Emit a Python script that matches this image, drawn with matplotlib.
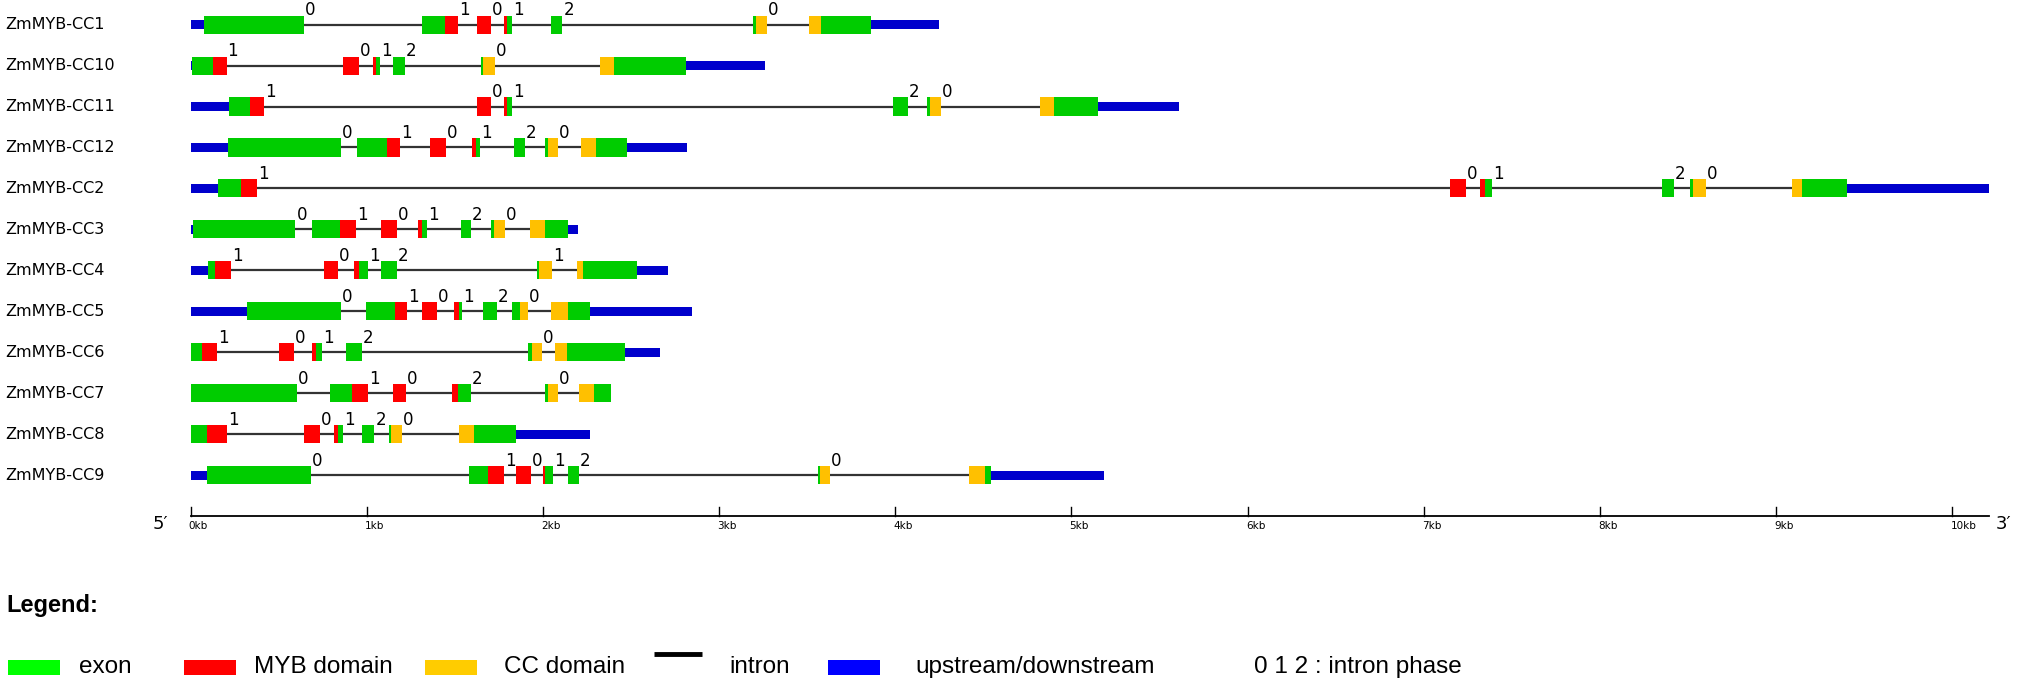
import matplotlib
matplotlib.use("Agg")
import matplotlib.pyplot as plt
from matplotlib.patches import Rectangle

genes = ["ZmMYB-CC1","ZmMYB-CC10","ZmMYB-CC11","ZmMYB-CC12","ZmMYB-CC2","ZmMYB-CC3",
         "ZmMYB-CC4","ZmMYB-CC5","ZmMYB-CC6","ZmMYB-CC7","ZmMYB-CC8","ZmMYB-CC9"]
gene_len = [4.25,3.261,5.61,2.818,10.21,2.202,2.713,2.844,2.664,2.388,2.265,5.184]

# segments: (start_kb, end_kb, type)  u=UTR, e=exon, m=MYB, c=CC
seg_CC1 = [(0,0.075,'u'),(0.075,0.645,'e'),(1.313,1.443,'e'),(1.443,1.518,'m'),(1.629,1.704,'m'),
           (1.779,1.798,'m'),(1.798,1.827,'e'),(2.046,2.111,'e'),(3.195,3.212,'e'),(3.212,3.274,'c'),
           (3.511,3.577,'c'),(3.577,3.860,'e'),(3.860,4.25,'u')]
seg_CC10 = [(0,0.01,'u'),(0.01,0.13,'e'),(0.13,0.205,'m'),(0.863,0.954,'m'),(1.036,1.052,'m'),
            (1.052,1.078,'e'),(1.150,1.215,'e'),(1.648,1.661,'e'),(1.661,1.726,'c'),(2.326,2.404,'c'),
            (2.404,2.811,'e'),(2.811,3.261,'u')]
seg_CC11 = [(0,0.221,'u'),(0.221,0.336,'e'),(0.336,0.417,'m'),(1.629,1.704,'m'),(1.779,1.798,'m'),
            (1.798,1.827,'e'),(3.99,4.07,'e'),(4.18,4.20,'e'),(4.20,4.26,'c'),(4.82,4.90,'c'),
            (4.90,5.15,'e'),(5.15,5.61,'u')]
seg_CC12 = [(0,0.215,'u'),(0.215,0.857,'e'),(0.945,1.117,'e'),(1.117,1.192,'m'),(1.362,1.450,'m'),
            (1.599,1.622,'m'),(1.622,1.642,'e'),(1.834,1.899,'e'),(2.013,2.029,'e'),(2.029,2.088,'c'),
            (2.218,2.300,'c'),(2.300,2.476,'e'),(2.476,2.818,'u')]
seg_CC2 = [(0,0.156,'u'),(0.156,0.287,'e'),(0.287,0.378,'m'),(7.15,7.24,'m'),(7.32,7.35,'m'),
           (7.35,7.39,'e'),(8.35,8.42,'e'),(8.51,8.53,'e'),(8.53,8.60,'c'),(9.09,9.15,'c'),
           (9.15,9.40,'e'),(9.40,10.21,'u')]
seg_CC3 = [(0,0.016,'u'),(0.016,0.596,'e'),(0.687,0.847,'e'),(0.847,0.938,'m'),(1.081,1.173,'m'),
           (1.290,1.313,'m'),(1.313,1.345,'e'),(1.534,1.590,'e'),(1.707,1.720,'e'),(1.720,1.785,'c'),
           (1.928,2.013,'c'),(2.013,2.143,'e'),(2.143,2.202,'u')]
seg_CC4 = [(0,0.098,'u'),(0.098,0.140,'e'),(0.140,0.231,'m'),(0.759,0.840,'m'),(0.928,0.954,'m'),
           (0.954,1.010,'e'),(1.081,1.173,'e'),(1.967,1.980,'e'),(1.980,2.052,'c'),(2.195,2.228,'c'),
           (2.228,2.534,'e'),(2.534,2.713,'u')]
seg_CC5 = [(0,0.319,'u'),(0.319,0.857,'e'),(0.997,1.160,'e'),(1.160,1.231,'m'),(1.313,1.401,'m'),
           (1.498,1.524,'m'),(1.524,1.541,'e'),(1.661,1.739,'e'),(1.827,1.870,'e'),(1.870,1.915,'c'),
           (2.046,2.143,'c'),(2.143,2.267,'e'),(2.267,2.844,'u')]
seg_CC6 = [(0,0.068,'e'),(0.068,0.150,'m'),(0.505,0.590,'m'),(0.687,0.710,'m'),(0.710,0.749,'e'),
           (0.883,0.971,'e'),(1.915,1.938,'e'),(1.938,1.997,'c'),(2.068,2.137,'c'),(2.137,2.469,'e'),
           (2.469,2.664,'u')]
seg_CC7 = [(0,0.01,'u'),(0.003,0.603,'e'),(0.792,0.915,'e'),(0.915,1.010,'m'),(1.150,1.221,'m'),
           (1.485,1.518,'m'),(1.518,1.590,'e'),(2.013,2.029,'e'),(2.029,2.088,'c'),(2.208,2.290,'c'),
           (2.290,2.388,'e')]
seg_CC8 = [(0,0.096,'e'),(0.096,0.206,'m'),(0.647,0.735,'m'),(0.816,0.838,'m'),(0.838,0.868,'e'),
           (0.971,1.044,'e'),(1.125,1.140,'e'),(1.140,1.199,'c'),(1.522,1.610,'c'),(1.610,1.846,'e'),
           (1.846,2.265,'u')]
seg_CC9 = [(0,0.096,'u'),(0.096,0.684,'e'),(1.581,1.691,'e'),(1.691,1.779,'m'),(1.846,1.934,'m'),
           (2.0,2.015,'m'),(2.015,2.059,'e'),(2.140,2.206,'e'),(3.559,3.574,'e'),(3.574,3.632,'c'),
           (4.419,4.507,'c'),(4.507,4.544,'e'),(4.544,5.184,'u')]

# intron phases: (position_kb, phase)
ph_CC1 = [(0.645,'0'),(1.518,'1'),(1.704,'0'),(1.827,'1'),(2.111,'2'),(3.274,'0')]
ph_CC10 = [(0.205,'1'),(0.954,'0'),(1.078,'1'),(1.215,'2'),(1.726,'0')]
ph_CC11 = [(0.417,'1'),(1.704,'0'),(1.827,'1'),(4.07,'2'),(4.26,'0')]
ph_CC12 = [(0.857,'0'),(1.192,'1'),(1.450,'0'),(1.642,'1'),(1.899,'2'),(2.088,'0')]
ph_CC2 = [(0.378,'1'),(7.24,'0'),(7.39,'1'),(8.42,'2'),(8.60,'0')]
ph_CC3 = [(0.596,'0'),(0.938,'1'),(1.173,'0'),(1.345,'1'),(1.590,'2'),(1.785,'0')]
ph_CC4 = [(0.231,'1'),(0.840,'0'),(1.010,'1'),(1.173,'2'),(2.052,'1')]
ph_CC5 = [(0.857,'0'),(1.231,'1'),(1.401,'0'),(1.541,'1'),(1.739,'2'),(1.915,'0')]
ph_CC6 = [(0.150,'1'),(0.590,'0'),(0.749,'1'),(0.971,'2'),(1.997,'0')]
ph_CC7 = [(0.603,'0'),(1.010,'1'),(1.221,'0'),(1.590,'2'),(2.088,'0')]
ph_CC8 = [(0.206,'1'),(0.735,'0'),(0.868,'1'),(1.044,'2'),(1.199,'0')]
ph_CC9 = [(0.684,'0'),(1.779,'1'),(1.934,'0'),(2.059,'1'),(2.206,'2'),(3.632,'0')]

segments = [seg_CC1,seg_CC10,seg_CC11,seg_CC12,seg_CC2,seg_CC3,seg_CC4,seg_CC5,seg_CC6,seg_CC7,seg_CC8,seg_CC9]
phases = [ph_CC1,ph_CC10,ph_CC11,ph_CC12,ph_CC2,ph_CC3,ph_CC4,ph_CC5,ph_CC6,ph_CC7,ph_CC8,ph_CC9]
ticks_kb = list(range(11))
tick_labels = [f"{t}kb" for t in ticks_kb]

colors = {'u':'#0000cc','e':'#00cc00','m':'#ff0000','c':'#ffc000'}
lcolors = {'u':'#0000ff','e':'#00ff00','m':'#ff0000','c':'#ffcc00'}
H = 528.6
fig = plt.figure(figsize=(20.32,6.85), dpi=100)
lg = fig.add_axes([0,0,1,1])
lg.set_xlim(0,1568); lg.set_ylim(H,0); lg.axis('off')
ax = fig.add_axes([147/1568, 1-412/H, (1535-147)/1568, 412/H])
ax.set_xlim(0, 10.21)
ax.set_ylim(412, 0)
ax.axis('off')

for i,(g,L,segs,phs) in enumerate(zip(genes,gene_len,segments,phases)):
    y = 19 + 31.6*i
    ax.plot([0,L],[y,y], color='#333333', lw=1.6, zorder=1, solid_capstyle='butt')
    for s,e,t in segs:
        h = 7 if t=='u' else 14
        ax.add_patch(Rectangle((s,y-h/2), e-s, h, color=colors[t], lw=0, zorder=2))
    for p,txt in phs:
        ax.text(p+0.005, y-4, txt, fontsize=12, ha='left', va='bottom', zorder=3)
    lg.text(4, y, g, fontsize=11.5, ha='left', va='center')

ya = 398
ax.plot([0,10.21],[ya,ya], color='black', lw=1.3, clip_on=False)
for t,l in zip(ticks_kb,tick_labels):
    ax.plot([t,t],[ya,ya-7], color='black', lw=1, clip_on=False)
    ax.text(t-0.01, ya+8, l, fontsize=7.5, ha='left', va='center', clip_on=False)
lg.text(118, 404, "5′", fontsize=13, ha='left', va='center')
lg.text(1540, 404, "3′", fontsize=13, ha='left', va='center')

# legend
fam = 'Liberation Sans'
lg.text(5, 467, "Legend:", fontsize=17, fontweight='bold', va='center', family=fam)
ly = 515
items = [(6,'e',"exon",61),(142,'m',"MYB domain",196),(328,'c',"CC domain",389),
         (505,None,"intron",563),(639,'u',"upstream/downstream",706)]
for x0,t,lab,tx in items:
    if t is None:
        lg.plot([x0,x0+37],[ly-10,ly-10], color='black', lw=3.5, solid_capstyle='butt')
    else:
        lg.add_patch(Rectangle((x0,ly-6), 40, 12, color=lcolors[t], lw=0))
    lg.text(tx, ly, lab, fontsize=17.5, va='center', family=fam)
lg.text(968, ly, "0 1 2 : intron phase", fontsize=17.5, va='center', family=fam)

fig.savefig("out.png", dpi=100)
